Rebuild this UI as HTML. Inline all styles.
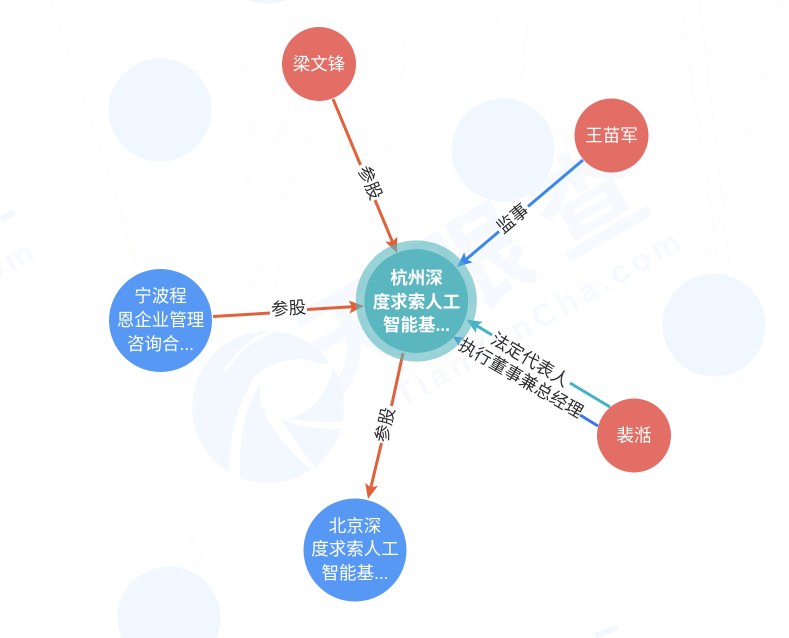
<!DOCTYPE html>
<html lang="zh">
<head>
<meta charset="utf-8">
<style>
html,body{margin:0;padding:0;background:#fff;width:789px;height:638px;overflow:hidden}
svg{display:block;filter:blur(.35px)}
text{font-family:"Liberation Sans","Noto Sans CJK SC",sans-serif;font-size:17.5px;text-anchor:middle}
.w{fill:#fff}
.b{fill:#fff;font-weight:700}
.l{fill:#2e2e2e}
.wm{fill:#f6f9fe;font-weight:700}
</style>
</head>
<body>
<svg width="789" height="638" viewBox="0 0 789 638" xmlns="http://www.w3.org/2000/svg">
<!-- faint background edges -->
<g stroke="#fdfcfa" stroke-width="1.2" fill="none">
<path d="M50 0L140 270M0 75L270 70M215 105L300 90M213 118L560 150M213 130L470 160M190 215L320 100M0 190L140 290M140 290L120 210M190 270L300 100M240 320L320 100M265 320L330 90"/>
<path d="M230 0L320 40M350 50L500 0M350 75L500 20M350 85L560 135M410 0L400 100M530 0L520 100M650 130L789 130M650 152L789 152M680 0L720 270M700 0L730 270M640 100L789 0M650 50L789 0M770 60L700 280M460 260L680 300"/>
<path d="M0 360L110 340M240 470L175 565M250 470L195 565M600 440L410 520M610 460L410 540M785 420L730 375M300 638L345 600M300 390L390 600"/>
</g>
<!-- watermark -->
<g>
<text class="wm" style="font-size:108px" transform="translate(374 367) rotate(-30)">天</text>
<text class="wm" style="font-size:108px" transform="translate(494 297) rotate(-30)">眼</text>
<text class="wm" style="font-size:108px" transform="translate(608 233) rotate(-30)">查</text>
<text class="wm" style="font-size:32px;letter-spacing:5px" transform="translate(545 327) rotate(-29.7)">TianYanCha.com</text>
<text class="wm" style="font-size:32px;letter-spacing:5px;text-anchor:end" transform="translate(40 256) rotate(-29.7)">com</text>
<path d="M1 219L14 212" stroke="#f3f8fe" stroke-width="6"/>
<path d="M595 636L618 627" stroke="#f3f8fe" stroke-width="6"/>
<circle cx="268" cy="407" r="76" fill="#f3f8fe"/>
<g transform="translate(180 320) scale(.3333)">
<path d="M275 35C210 55 165 110 132 155" fill="none" stroke="#fff" stroke-width="10"/>
<path fill="#fff" d="M145 465C150 350 170 250 225 170C280 115 370 105 410 130L458 130C450 210 400 280 325 295C380 305 440 310 490 305L485 325C440 330 350 320 300 295C340 350 370 400 405 440L395 450C330 390 270 330 250 270C235 240 240 210 240 190C195 260 175 360 180 470Z"/>
</g>
</g>
<!-- ghost nodes -->
<g fill="#f0f7fe">
<circle cx="160" cy="110" r="51.5"/>
<circle cx="503" cy="150" r="51.5"/>
<circle cx="714" cy="325" r="51.5"/>
<path d="M121.500 638A51.500 51.500 0 1 1 216.500 638Z"/>
<path d="M248.300 0A51.500 51.500 0 0 0 285.700 0Z"/>
</g>
<!-- edges -->
<g fill="none" stroke-width="3">
<path stroke="#e0623c" d="M333 99L360.500 165M375 200L394 245.600"/>
<path stroke="#e0623c" d="M213 316.500L270 313M307 309.500L356 306.500"/>
<path stroke="#3b87ee" d="M583 160L528 206.500M499 231.500L463 262"/>
<path stroke="#e0623c" d="M403 353L391.500 406M381.500 443L370 491"/>
<path stroke="#45b2c7" d="M610 407L570 383M492 335L473.300 323.700"/>
<path stroke="#3b76ee" d="M598 426L580 415"/>
</g>
<!-- arrowheads -->
<g>
<path fill="#e0623c" d="M0 0L-15 -6.500L-12 0L-15 6.500Z" transform="translate(397 253) rotate(67.4)"/>
<path fill="#e0623c" d="M0 0L-15 -6.500L-12 0L-15 6.500Z" transform="translate(364 306) rotate(-4)"/>
<path fill="#3b87ee" d="M0 0L-15 -6.500L-12 0L-15 6.500Z" transform="translate(457 267) rotate(139.7)"/>
<path fill="#e0623c" d="M0 0L-15 -6.500L-12 0L-15 6.500Z" transform="translate(368 499) rotate(103.5)"/>
<path fill="#45b2c7" d="M0 0L-15 -6.500L-12 0L-15 6.500Z" transform="translate(466.500 319.500) rotate(211.6)"/>
<path fill="#3b87ee" d="M0 0L-10 -5L-8 0L-10 5Z" transform="translate(453 336.500) rotate(211.8)"/>
</g>
<!-- centre node -->
<circle cx="416.300" cy="301" r="56.300" fill="none" stroke="#5ab6bf" stroke-width="8.600" opacity=".62"/>
<circle cx="416.300" cy="301" r="52" fill="#5ab6bf"/>
<text class="b" x="416.500" y="284">杭州深</text>
<text class="b" x="416.500" y="308">度求索人工</text>
<text class="b" x="416.500" y="331">智能基...</text>
<!-- other nodes -->
<circle cx="319" cy="64" r="37" fill="#e26e66"/>
<text class="w" x="319" y="70">梁文锋</text>
<circle cx="611.500" cy="135.500" r="37" fill="#e26e66"/>
<text class="w" x="611.500" y="141.500">王苗军</text>
<circle cx="634" cy="435.500" r="37" fill="#e26e66"/>
<text class="w" x="634" y="441.500">裴湉</text>
<circle cx="160.500" cy="320.500" r="51.500" fill="#5698f3"/>
<text class="w" x="160.500" y="302">宁波程</text>
<text class="w" x="160.500" y="326">恩企业管理</text>
<text class="w" x="160.500" y="350">咨询合...</text>
<circle cx="355" cy="550" r="51.500" fill="#5698f3"/>
<text class="w" x="355" y="532">北京深</text>
<text class="w" x="355" y="555">度求索人工</text>
<text class="w" x="355" y="579">智能基...</text>
<!-- edge labels -->
<text class="l" transform="translate(364.500 185) rotate(67)">参股</text>
<text class="l" transform="translate(289 314.300) rotate(-4)">参股</text>
<text class="l" transform="translate(516.500 223) rotate(-40)">监事</text>
<text class="l" transform="translate(390.800 426.300) rotate(-77)">参股</text>
<text class="l" transform="translate(527 365) rotate(31)">法定代表人</text>
<text class="l" transform="translate(518 383.500) rotate(30)">执行董事兼总经理</text>
</svg>
</body>
</html>
